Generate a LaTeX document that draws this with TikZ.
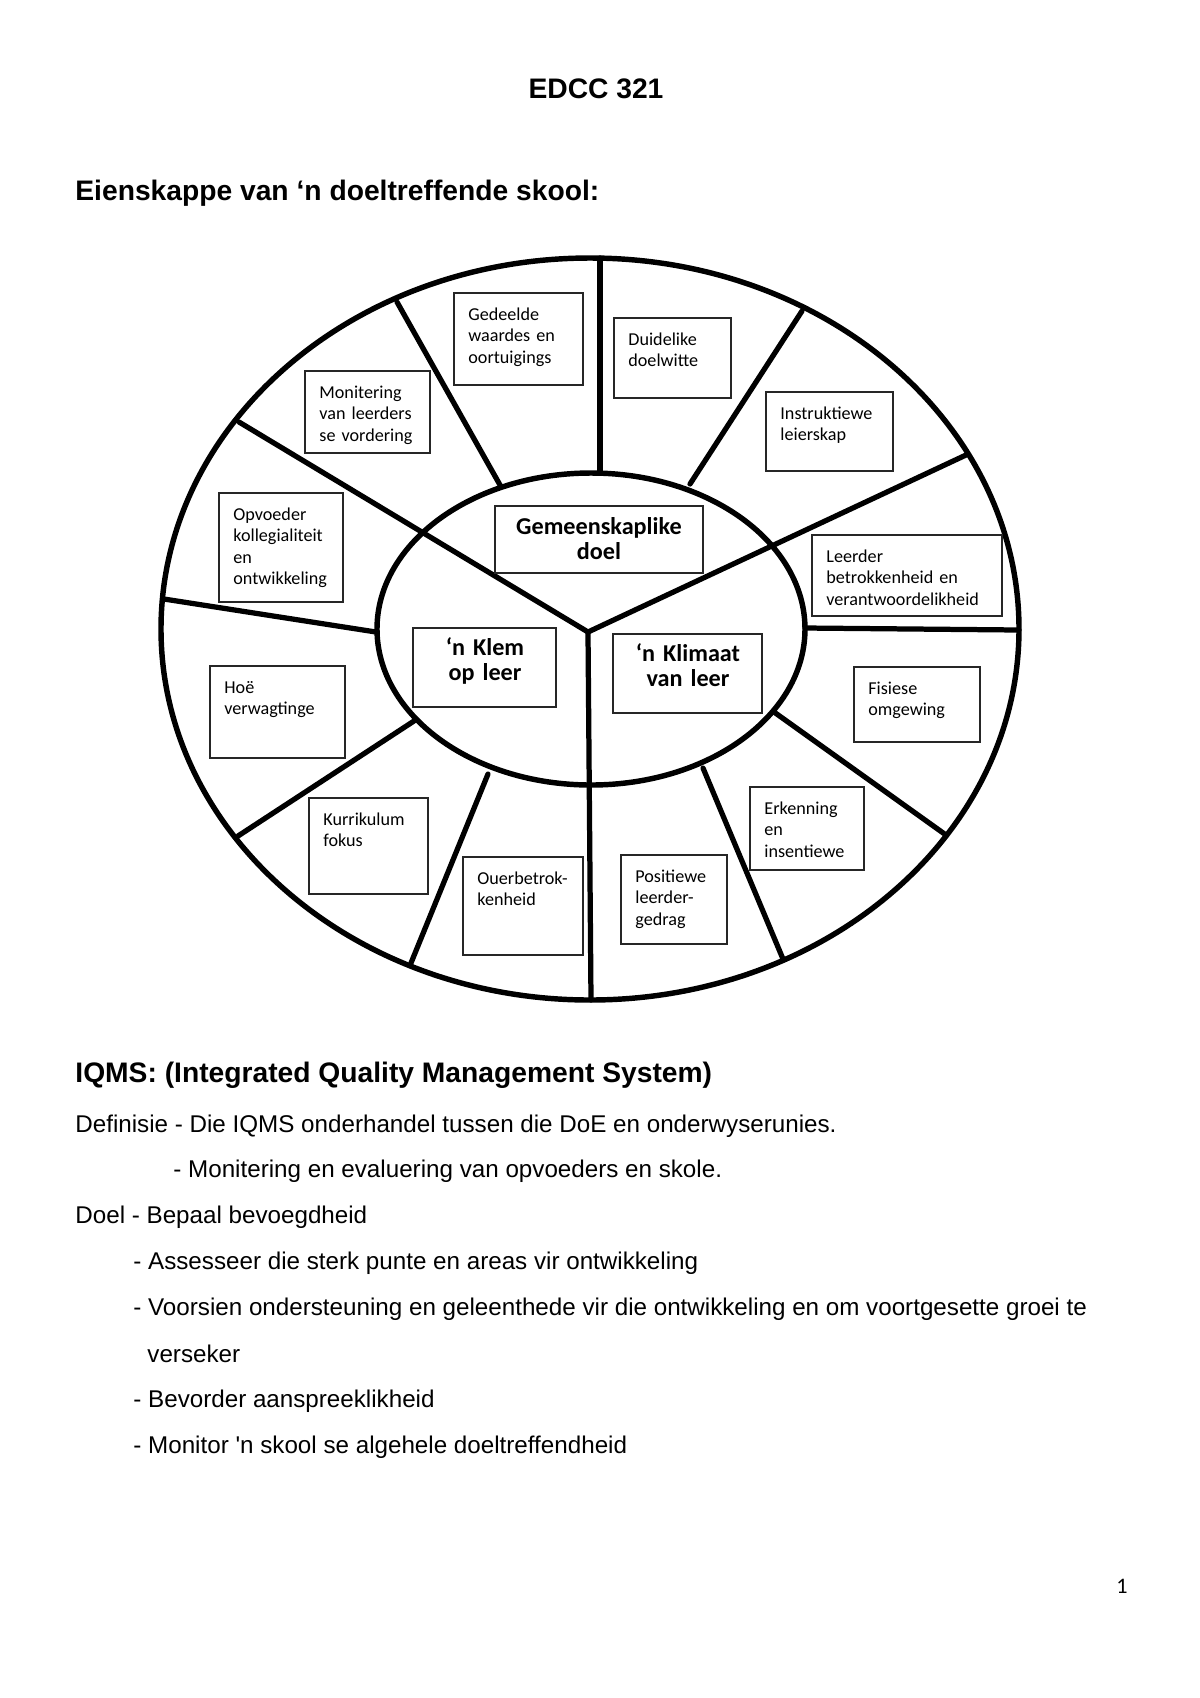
\documentclass[tikz,border=0pt]{standalone}
\usepackage{fontspec}
\newfontfamily\arialfont{Liberation Sans}
\newfontfamily\calfont{Carlito}
\usepackage{tikz}

\tikzset{
  rim/.style  = {draw=black, line width=2.7pt},
  spk/.style  = {draw=black, line width=2.6pt, line cap=round},
  box/.style  = {draw=black!85, line width=0.55pt},
  btxt/.style = {anchor=base west, align=left, inner sep=0pt, text width=3cm,
                 font=\calfont\fontsize{9}{10.7}\selectfont},
  ctxt/.style = {anchor=base, align=center, inner sep=0pt, text width=3.5cm,
                 font=\calfont\bfseries\fontsize{12}{12.6}\selectfont},
  head/.style = {inner sep=0pt, font=\arialfont\bfseries\fontsize{14}{16}\selectfont},
  body/.style = {anchor=base west, inner sep=0pt,
                 font=\arialfont\fontsize{12}{14}\selectfont},
  pgno/.style = {anchor=base, inner sep=0pt, font=\calfont\fontsize{11}{13}\selectfont},
}

\begin{document}
\begin{tikzpicture}[x=0.496pt, y=-0.496pt]
  \useasboundingbox (0,0) rectangle (1200,1698);

  % headings
  \node[head, anchor=base] (titel) at (596,98) {EDCC 321};
  \node[head, anchor=base west] (eienskap) at (75,200)
    {Eienskappe van ‘n doeltreffende skool:};

  % wheel
  \coordinate (hub) at (588,632);
  \draw[rim] (590,629) ellipse (429 and 371);
  \draw[rim] (591,629) ellipse (214 and 156);
  \foreach \xa/\ya/\xb/\yb in {600/258/600/473, 397/302/500/485,
                               239/422/588/632, 164/599/376/632,
                               238/836/414/721, 411/963/488/774,
                               588/632/591/1000, 783/959/703/768,
                               946/835/774/712, 805/628/1019/630,
                               966/455/588/632, 802/311/690/484}{%
    \draw[spk] (\xa,\ya) -- (\xb,\yb);}

  % boxes round the rim
  \foreach \nm/\xa/\ya/\xb/\yb/\txt in {
      gedeelde/454/293/583/385/{Gedeelde\\waardes en\\oortuigings},
      duidelik/614/318/731/398/{Duidelike\\doelwitte},
      moniter/305/371/430/453/{Monitering\\van leerders\\se vordering},
      instruk/766/392/893/471/{Instruktiewe\\leierskap},
      opvoeder/219/493/343/602/{Opvoeder\\kollegialiteit\\en\\ontwikkeling},
      leerder/812/535/1002/616/{Leerder\\betrokkenheid en\\verantwoordelikheid},
      hoe/210/666/345/758/{Hoë\\verwagtinge},
      fisies/854/667/980/742/{Fisiese\\omgewing},
      kurrikulum/309/798/428/894/{Kurrikulum\\fokus},
      erkenning/750/787/864/870/{Erkenning\\en\\insentiewe},
      ouer/463/857/583/955/{Ouerbetrok-\\kenheid},
      positief/621/855/727/944/{Positiewe\\leerder-\\gedrag}}{%
    \draw[box] (\xa,\ya) rectangle (\xb,\yb);
    \node[btxt] (\nm) at (\xa+14,\ya+27) {\txt};}

  % the three middle boxes
  \foreach \nm/\xa/\ya/\xb/\yb/\cx/\by/\txt in {
      gemeen/495/506/703/573/599/534/{Gemeenskaplike\\doel},
      klem/413/628/556/707/485/655/{‘n Klem\\op leer},
      klimaat/613/634/762/713/688/661/{‘n Klimaat\\van leer}}{%
    \draw[box] (\xa,\ya) rectangle (\xb,\yb);
    \node[ctxt] (\nm) at (\cx,\by) {\txt};}

  % IQMS text
  \node[head, anchor=base west] (iqms) at (75,1082)
    {IQMS: (Integrated Quality Management System)};
  \foreach \nm/\x/\y/\txt in {
      def/75/1132/{Definisie - Die IQMS onderhandel tussen die DoE en onderwyserunies.},
      mon/173/1177/{- Monitering en evaluering van opvoeders en skole.},
      doel/75/1223/{Doel - Bepaal bevoegdheid},
      asses/133/1269/{- Assesseer die sterk punte en areas vir ontwikkeling},
      voorsien/133/1315/{- Voorsien ondersteuning en geleenthede vir die ontwikkeling en om voortgesette groei te},
      versek/147/1362/{verseker},
      bevorder/133/1407/{- Bevorder aanspreeklikheid},
      monitor/133/1453/{- Monitor 'n skool se algehele doeltreffendheid}}{%
    \node[body] (\nm) at (\x,\y) {\txt};}

  \node[pgno] (bladsy) at (1122,1593) {1};
\end{tikzpicture}
\end{document}
